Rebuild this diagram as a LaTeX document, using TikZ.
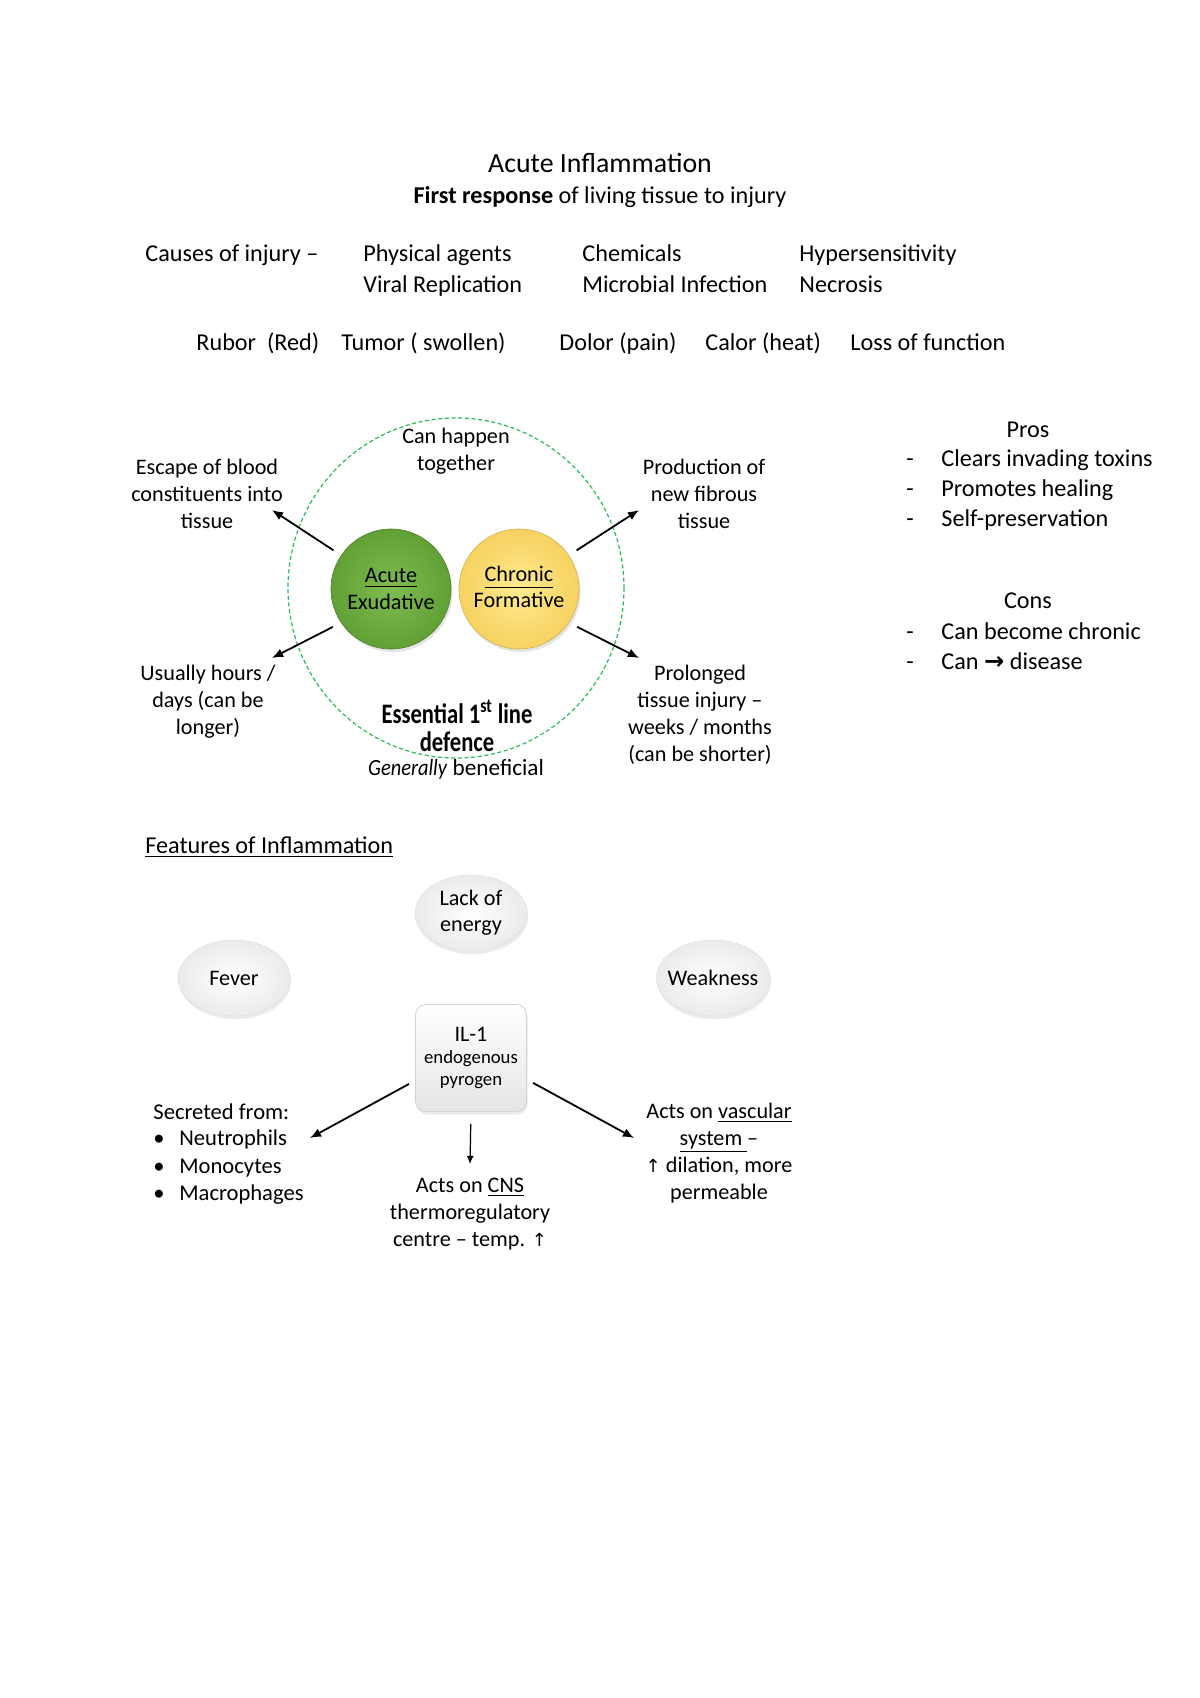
\documentclass[tikz,border=0pt]{standalone}
\usepackage{fontspec}
\usepackage{graphicx}
\setmainfont{Carlito}
\newfontfamily\dejavu{DejaVu Sans}
\usetikzlibrary{arrows.meta,shapes.geometric,shadows}
\definecolor{dashgreen}{RGB}{40,190,90}
\definecolor{grA}{RGB}{128,188,82}
\definecolor{grB}{RGB}{96,160,52}
\definecolor{yeA}{RGB}{255,234,145}
\definecolor{yeB}{RGB}{246,210,96}
\begin{document}
\begin{tikzpicture}[x=0.4958pt,y=-0.4958pt,
  t/.style={font=\fontsize{11}{13.4}\selectfont, inner sep=0pt, align=center},
  tb/.style={font=\fontsize{12}{14.6}\selectfont, inner sep=0pt, align=center},
  tl/.style={font=\fontsize{12}{14.6}\selectfont, inner sep=0pt, anchor=west, text height=1.6ex, text depth=0.45ex, yshift=-1.4pt},
  tls/.style={font=\fontsize{11.2}{13.4}\selectfont, inner sep=0pt, anchor=west, text height=1.6ex, text depth=0.45ex, yshift=-1.4pt},
  arr/.style={-{Latex[length=5.5pt,width=4.5pt]}, line width=0.9pt},
  thinarr/.style={-{Latex[length=4pt,width=3.5pt]}, line width=0.6pt},
  bubble/.style={ellipse, minimum width=55.5pt, minimum height=37.7pt, inner sep=1pt,
    inner color=white, outer color=gray!16, draw=gray!35, densely dotted,
    drop shadow={opacity=0.15, shadow xshift=0.6pt, shadow yshift=-1.6pt},
    font=\fontsize{11}{13}\selectfont, align=center},
  ball/.style={circle, minimum size=59.5pt, inner sep=0pt, align=center,
    font=\fontsize{11}{13}\selectfont,
    drop shadow={opacity=0.2, shadow xshift=0.8pt, shadow yshift=-1.5pt}},
]
\useasboundingbox[fill=white] (0,0) rectangle (1200,1698);

% title
\node[t, font=\fontsize{13.8}{16}\selectfont] (title) at (600,163) {Acute Inflammation};
\node[tb] (subtitle) at (600,197) {\textbf{First response} of living tissue to injury};

% causes
\node[tl] (causes) at (145,253) {Causes of injury –};
\node[tl] (phys) at (363,253) {Physical agents};
\node[tl] (viral) at (363,284) {Viral Replication};
\node[tl] (chem) at (582,253) {Chemicals};
\node[tl] (micro) at (582,284) {Microbial Infection};
\node[tl] (hyper) at (799,253) {Hypersensitivity};
\node[tl] (necro) at (799,284) {Necrosis};

% cardinal signs
\node[tl] (rubor) at (196,342) {Rubor\ \ (Red)};
\node[tl] (tumor) at (341,342) {Tumor ( swollen)};
\node[tl] (dolor) at (559,342) {Dolor (pain)};
\node[tl] (calor) at (705,342) {Calor (heat)};
\node[tl] (loss) at (850,342) {Loss of function};

% dashed ellipse
\draw[dashgreen, line width=0.6pt, dash pattern=on 2pt off 1.3pt] (456,588) ellipse [x radius=168, y radius=170];

% circles
\node[ball, draw=grB!80!black, line width=0.3pt, inner color=grA, outer color=grB] (acute) at (391,589) {\underline{Acute}\\Exudative};
\node[ball, draw=yeB!85!black, line width=0.3pt, inner color=yeA, outer color=yeB] (chronic) at (519,589) {\underline{\smash{Chronic}\vphantom{y}}\\Formative};

% surrounding labels
\node[t] (together) at (456,451) {Can happen\\together};
\node[t] (escape) at (207,494) {Escape of blood\\constituents into\\tissue};
\node[t] (fibrous) at (704,494) {Production of\\new fibrous\\tissue};
\node[t] (hours) at (208,702) {Usually hours /\\days (can be\\longer)};
\node[t] (prolonged) at (700,715) {Prolonged\\tissue injury –\\weeks / months\\(can be shorter)};
\node[t, font=\fontsize{14}{14}\selectfont] (essential) at (457,726) {\scalebox{0.8}[1]{\textbf{Essential 1\textsuperscript{st} line}}\\\scalebox{0.8}[1]{\textbf{defence}}};
\node[t, font=\fontsize{11.5}{13}\selectfont] (beneficial) at (456,769) {\scalebox{0.88}[1]{\textit{Generally}} beneficial};

\coordinate (escEnd) at (272,510);
\coordinate (fibEnd) at (639,510);
\coordinate (houEnd) at (272,658);
\coordinate (proEnd) at (639,658);
\draw[arr, shorten <=4.5pt] (acute.146) -- (escEnd);
\draw[arr, shorten <=4.5pt] (chronic.34) -- (fibEnd);
\draw[arr, shorten <=4.5pt] (acute.214) -- (houEnd);
\draw[arr, shorten <=4.5pt] (chronic.-34) -- (proEnd);

% pros / cons
\node[tb] (pros) at (1028,430) {Pros};
\node[tl] (pd1) at (906,458) {-};
\node[tl] (p1) at (941,458) {Clears invading toxins};
\node[tl] (pd2) at (906,488) {-};
\node[tl] (p2) at (941,488) {Promotes healing};
\node[tl] (pd3) at (906,518) {-};
\node[tl] (p3) at (941,518) {Self-preservation};
\node[tb] (cons) at (1028,601) {Cons};
\node[tl] (cd1) at (906,631) {-};
\node[tl] (c1) at (941,631) {Can become chronic};
\node[tl] (cd2) at (906,661) {-};
\node[tl] (c2) at (941,661) {Can {\dejavu\bfseries →} disease};

% features
\node[tl] (features) at (145,845) {\underline{Features of Inflammation}};
\node[bubble] (lack) at (471,913) {Lack of\\energy};
\node[bubble] (fever) at (234,978) {Fever};
\node[bubble, inner xsep=-2.6pt] (weak) at (713,978) {Weakness};
\node[draw=gray!35, rounded corners=5pt, minimum width=55pt, minimum height=53pt,
  top color=white, bottom color=gray!20, align=center, inner sep=1pt,
  drop shadow={opacity=0.15, shadow xshift=0.6pt, shadow yshift=-1.6pt}] (il) at (471,1058)
  {{\fontsize{11}{13}\selectfont IL-1}\\[-1pt]{\fontsize{9.3}{11}\selectfont endogenous}\\[-1pt]{\fontsize{9.3}{11}\selectfont pyrogen}};

\node[tls] (secreted) at (153,1111) {Secreted from:};
\node[tls] (b1) at (153,1137) {•};
\node[tls] (s1) at (179,1137) {Neutrophils};
\node[tls] (b2) at (153,1165) {•};
\node[tls] (s2) at (179,1165) {Monocytes};
\node[tls] (b3) at (153,1192) {•};
\node[tls] (s3) at (179,1192) {Macrophages};

\node[t] (cns) at (470,1214) {Acts on \underline{CNS}\\thermoregulatory\\centre – temp. {\dejavu\fontsize{9}{11}\selectfont ↑}};
\node[t] (vasc) at (719,1153) {Acts on \underline{vascular}\\\underline{system\ }–\\{\dejavu\fontsize{9}{11}\selectfont ↑} dilation, more\\permeable};

\coordinate (secEnd) at (310,1138);
\coordinate (cnsEnd) at (470,1164);
\coordinate (vasEnd) at (634,1138);
\draw[arr, shorten <=3.5pt] (il.202) -- (secEnd);
\draw[thinarr, shorten <=6pt] (il.south) -- (cnsEnd);
\draw[arr, shorten <=3.5pt] (il.-21) -- (vasEnd);
\end{tikzpicture}
\end{document}
